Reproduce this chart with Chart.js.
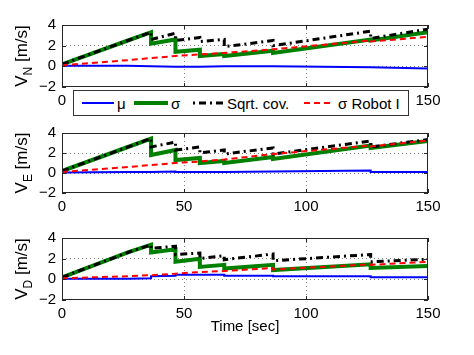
<!DOCTYPE html>
<html><head><meta charset="utf-8">
<script src="https://cdn.jsdelivr.net/npm/chart.js@4.4.1/dist/chart.umd.min.js"></script>
<style>
html,body{margin:0;padding:0;background:#fff;}
#wrap{position:relative;width:474px;height:355px;overflow:hidden;background:#fff;}
#wrap canvas{position:absolute;left:0;}
#legend{position:absolute;left:73px;top:90px;width:334px;height:24px;border:1px solid #333;background:#fff;z-index:5;}
#legend svg{position:absolute;left:0;top:0;}
#legend text{font-family:"Liberation Sans",Arial,sans-serif;font-size:15px;fill:#000;}
</style></head>
<body>
<div id="wrap">
  <canvas id="cN" style="top:0px" width="474" height="118"></canvas>
  <canvas id="cE" style="top:118px" width="474" height="100"></canvas>
  <canvas id="cD" style="top:218px" width="474" height="137"></canvas>
  <div id="legend">
    <svg width="334" height="24">
      <line x1="8" y1="12" x2="40" y2="12" stroke="#0000ff" stroke-width="2"/>
      <text x="43" y="17.5">μ</text>
      <line x1="60" y1="12" x2="94" y2="12" stroke="#008000" stroke-width="4"/>
      <text x="97" y="17.5">σ</text>
      <line x1="119" y1="12" x2="149" y2="12" stroke="#000" stroke-width="3" stroke-dasharray="2,4,7,4"/>
      <text x="153" y="17.5">Sqrt. cov.</text>
      <line x1="230" y1="12" x2="260" y2="12" stroke="#ff0000" stroke-width="2" stroke-dasharray="6,4"/>
      <text x="264" y="17.5">σ Robot I</text>
    </svg>
  </div>
</div>
<script>
// ---- data ----
const timeBreaks = [0, 27, 36.5, 36.5, 46.5, 46.5, 56.5, 56.5, 66.5, 66.5, 86.5, 86.5, 126.5, 126.5, 150];

const muN    = [0.05, 0.05, 0.0, 0.0, -0.05, -0.05, -0.05, -0.05, 0.0, 0.0, 0.0, 0.0, -0.1, -0.1, -0.2];
const sigmaN = [0.2, 2.5, 3.3, 2.2, 2.6, 1.4, 1.6, 1.0, 1.2, 1.0, 1.5, 1.3, 2.6, 2.5, 3.3];
const sqrtN  = [0.2, 2.5, 3.3, 2.6, 3.2, 2.5, 2.8, 2.4, 2.6, 1.9, 2.5, 2.0, 3.4, 2.7, 3.6];
const robotN = [0.1, 0.6, 0.8, 0.8, 1.0, 1.0, 1.15, 1.15, 1.3, 1.3, 1.65, 1.65, 2.5, 2.4, 2.85];

const muE    = [0.05, 0.1, 0.1, 0.1, 0.15, 0.1, 0.1, 0.1, 0.1, 0.1, 0.15, 0.15, 0.25, 0.1, 0.1];
const sigmaE = [0.2, 2.6, 3.45, 1.8, 2.3, 1.3, 1.5, 1.0, 1.2, 1.0, 1.6, 1.4, 2.75, 2.5, 3.2];
const sqrtE  = [0.2, 2.6, 3.45, 2.6, 3.1, 2.3, 2.6, 2.0, 2.3, 1.9, 2.5, 1.9, 3.2, 2.6, 3.35];
const robotE = [0.1, 0.6, 0.8, 0.8, 1.0, 1.0, 1.15, 1.15, 1.35, 1.35, 1.9, 1.9, 2.75, 2.65, 3.25];

const muD    = [0.05, 0.05, 0.1, 0.3, 0.35, 0.45, 0.45, 0.45, 0.45, 0.35, 0.35, 0.3, 0.3, 0.2, 0.2];
const sigmaD = [0.2, 2.6, 3.35, 2.6, 2.9, 1.7, 2.0, 1.2, 1.4, 1.05, 1.4, 0.9, 1.45, 1.1, 1.3];
const sqrtD  = [0.2, 2.6, 3.35, 3.0, 3.2, 2.4, 2.55, 2.0, 2.3, 1.9, 2.45, 1.8, 2.4, 1.7, 1.95];
const robotD = [0.1, 0.3, 0.4, 0.4, 0.55, 0.55, 0.7, 0.7, 0.8, 0.8, 1.1, 0.95, 1.45, 1.4, 1.7];

const xTicks = [0, 50, 100, 150];
const yTicks = [-2, 0, 2, 4];
const seriesNames = ['μ', 'σ', 'Sqrt. cov.', 'σ Robot I'];

// ---- helpers ----
const FONT = '"Liberation Sans", Arial, sans-serif';
const pts = (vals) => timeBreaks.map((t, i) => ({x: t, y: vals[i]}));

const boxPlugin = {
  id: 'box',
  afterDatasetsDraw(chart) {
    const {ctx, chartArea: a, scales: {x, y}} = chart;
    ctx.save();
    ctx.strokeStyle = '#262626';
    ctx.lineWidth = 1;
    ctx.strokeRect(Math.round(a.left) + 0.5, Math.round(a.top) + 0.5,
                   Math.round(a.right - a.left) - 1, Math.round(a.bottom - a.top) - 1);
    const L = 4;
    ctx.beginPath();
    xTicks.forEach(v => {
      const px = Math.round(x.getPixelForValue(v)) + 0.5;
      ctx.moveTo(px, a.bottom); ctx.lineTo(px, a.bottom - L);
      ctx.moveTo(px, a.top); ctx.lineTo(px, a.top + L);
    });
    yTicks.forEach(v => {
      const py = Math.round(y.getPixelForValue(v)) + 0.5;
      ctx.moveTo(a.left, py); ctx.lineTo(a.left + L, py);
      ctx.moveTo(a.right, py); ctx.lineTo(a.right - L, py);
    });
    ctx.stroke();
    ctx.restore();
  }
};

const yTitlePlugin = {
  id: 'yTitle',
  afterDraw(chart, args, opts) {
    if (!opts || !opts.main) return;
    const {ctx, chartArea} = chart;
    const cy = (chartArea.top + chartArea.bottom) / 2;
    const size = opts.size;
    const mainFont = size + 'px ' + FONT;
    const subFont = Math.round(size * 0.72) + 'px ' + FONT;
    ctx.save();
    ctx.translate(opts.x, cy);
    ctx.rotate(-Math.PI / 2);
    ctx.fillStyle = '#000';
    ctx.textBaseline = 'alphabetic';
    ctx.textAlign = 'left';
    ctx.font = mainFont;
    const w1 = ctx.measureText(opts.main).width;
    const w3 = ctx.measureText(opts.rest).width;
    ctx.font = subFont;
    const w2 = ctx.measureText(opts.sub).width;
    let px = -(w1 + w2 + w3) / 2;
    const base = size * 0.36;
    ctx.font = mainFont; ctx.fillText(opts.main, px, base); px += w1;
    ctx.font = subFont; ctx.fillText(opts.sub, px, base + size * 0.3); px += w2;
    ctx.font = mainFont; ctx.fillText(opts.rest, px, base);
    ctx.restore();
  }
};

function makeChart(id, mu, sigma, sqrtc, robot, sub, pad, xHeight, xTitle) {
  const edgeTransparent = (lo, hi) => (c) => {
    const v = c.tick ? c.tick.value : null;
    return (v === lo || v === hi) ? 'rgba(0,0,0,0)' : 'rgba(90,90,90,0.75)';
  };
  return new Chart(document.getElementById(id), {
    type: 'line',
    data: {
      datasets: [
        {label: seriesNames[3], data: pts(robot), borderColor: '#ff0000', borderWidth: 2, borderDash: [6, 4], order: 0},
        {label: seriesNames[2], data: pts(sqrtc), borderColor: '#000000', borderWidth: 3, borderDash: [7, 4, 2, 4], order: 1},
        {label: seriesNames[1], data: pts(sigma), borderColor: '#008000', borderWidth: 4, order: 2},
        {label: seriesNames[0], data: pts(mu), borderColor: '#0000ff', borderWidth: 2, order: 3}
      ]
    },
    options: {
      responsive: false,
      animation: false,
      events: [],
      layout: {padding: {top: pad.top, bottom: pad.bottom, left: 0, right: 46}},
      elements: {point: {radius: 0}, line: {tension: 0, fill: false, borderJoinStyle: 'miter', borderCapStyle: 'butt'}},
      plugins: {
        legend: {display: false},
        tooltip: {enabled: false},
        yTitle: {main: 'V', sub: sub, rest: ' [m/s]', size: 17, x: 21}
      },
      scales: {
        x: {
          type: 'linear', min: 0, max: 150,
          afterBuildTicks: (s) => { s.ticks = xTicks.map(v => ({value: v})); },
          afterFit: (s) => { s.height = xHeight; },
          grid: {color: edgeTransparent(0, 150), lineWidth: 1, drawTicks: false},
          border: {display: false, dash: [1, 3]},
          ticks: {padding: 5, color: '#000', font: {family: FONT, size: 15}, maxRotation: 0, autoSkip: false},
          title: xTitle ? {display: true, text: xTitle, color: '#000', font: {family: FONT, size: 15}, padding: 0} : {display: false}
        },
        y: {
          type: 'linear', min: -2, max: 4,
          afterBuildTicks: (s) => { s.ticks = yTicks.map(v => ({value: v})); },
          afterFit: (s) => { s.width = 62; },
          grid: {color: edgeTransparent(-2, 4), lineWidth: 1, drawTicks: false},
          border: {display: false, dash: [1, 3]},
          ticks: {padding: 6, color: '#000', font: {family: FONT, size: 15}, autoSkip: false,
                  callback: (v) => (v < 0 ? '\u2212' + Math.abs(v) : String(v))}
        }
      }
    },
    plugins: [boxPlugin, yTitlePlugin]
  });
}

makeChart('cN', muN, sigmaN, sqrtN, robotN, 'N', {top: 25, bottom: 6}, 25, null);
makeChart('cE', muE, sigmaE, sqrtE, robotE, 'E', {top: 13, bottom: 0}, 25, null);
makeChart('cD', muD, sigmaD, sqrtD, robotD, 'D', {top: 20, bottom: 19}, 36, 'Time [sec]');
</script>
</body></html>
